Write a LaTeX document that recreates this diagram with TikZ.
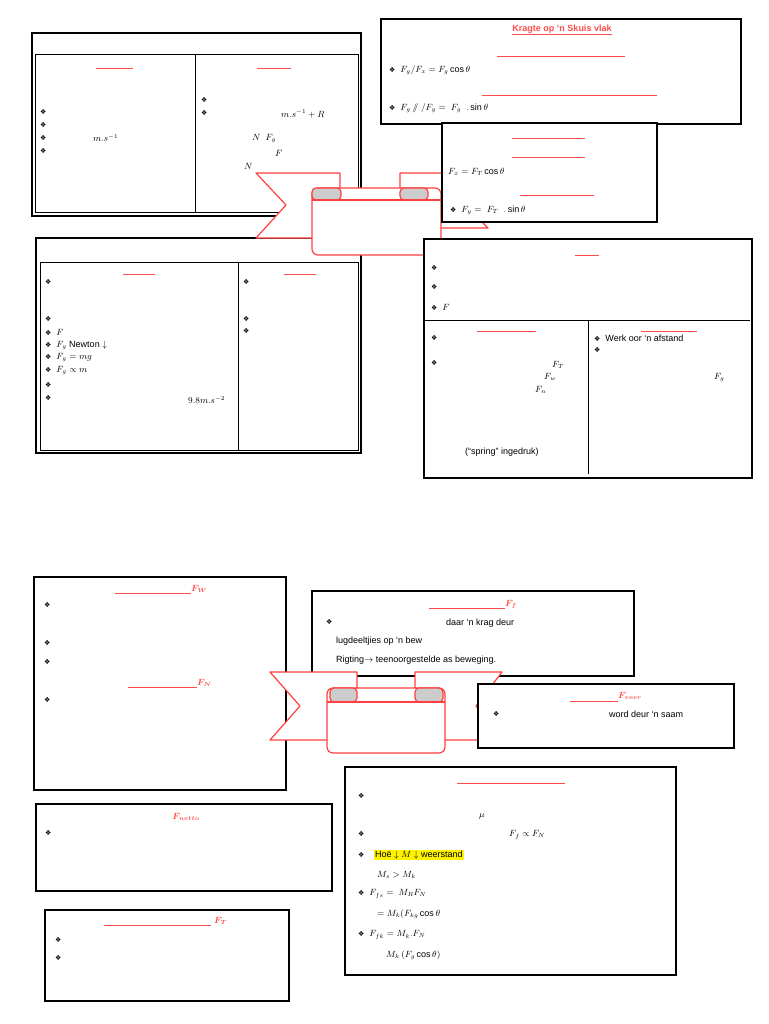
\documentclass[tikz,border=0pt]{standalone}
\usepackage{fontspec}
\usepackage{amsmath}
\setmainfont{Liberation Sans}
\newfontfamily\djv{DejaVu Sans}
\newcommand{\bl}{{\djv\fontsize{7}{8}\selectfont ❖}}
\begin{document}
\begin{tikzpicture}[x=1pt,y=-1pt,
  box/.style={draw=black,line width=1.3pt,fill=white},
  thin/.style={draw=black,line width=0.8pt},
  rl/.style={draw=red!70,line width=0.8pt},
  rt/.style={text=red!70,font=\fontsize{9}{10}\selectfont\bfseries},
  t/.style={anchor=west,font=\fontsize{9}{10}\selectfont,inner sep=0},
  m/.style={anchor=west,font=\fontsize{9}{10}\selectfont,inner sep=0},
  flag/.style={draw=red!75,line width=1.2pt,fill=white,line join=round},
  curl/.style={draw=red!75,line width=1.2pt,fill=gray!40,rounded corners=4pt}]
\useasboundingbox (0,0) rectangle (768,1024);
% ---------- A
\path[box] (32,33) rectangle (361,216);
\path[box,line width=1pt] (35,55) rectangle (358,213);
\draw[thin] (195,55) -- (195,213);
\draw[rl] (96,68) -- (133,68); \draw[rl] (257,68) -- (291,68);
\foreach \y in {112,125,138,151} \node[t] at (40,\y) {\bl};
\node[m] at (93,138) {$m.s^{-1}$};
\node[t] at (201,100) {\bl}; \node[t] at (201,113) {\bl};
\node[m] at (281,114) {$m.s^{-1}+R$};
\node[m] at (252,139) {$N\;\;F_g$};
\node[m] at (275,153) {$F$};
\node[m] at (244,166) {$N$};
% ---------- D
\path[box] (36,238) rectangle (361,453);
\path[box,line width=1pt] (40,262) rectangle (358,450);
\draw[thin] (238,262) -- (238,450);
\draw[rl] (123,274) -- (155,274); \draw[rl] (284,274) -- (316,274);
\node[t] at (45,282) {\bl};
\node[t] at (45,319) {\bl};
\node[t] at (45,332) {\bl\ \ $F$};
\node[t] at (45,345) {\bl\ \ $F_g$ Newton $\downarrow$};
\node[t] at (45,358) {\bl\ \ $F_g=mg$};
\node[t] at (45,371) {\bl\ \ $F_g\propto m$};
\node[t] at (45,385) {\bl};
\node[t] at (45,398) {\bl};
\node[m] at (188,400) {$9.8m.s^{-2}$};
\node[t] at (243,282) {\bl}; \node[t] at (243,319) {\bl}; \node[t] at (243,331) {\bl};
% ---------- Banner 1
\path[flag] (256,173) -- (340,173) -- (340,238) -- (256,238) -- (286,205) -- cycle;
\path[flag] (488,228) -- (400,228) -- (400,173) -- (488,173) -- (460,200) -- cycle;
\path[draw=red!75,line width=1.2pt,fill=white,rounded corners=6pt] (312,188) rectangle (441,255);
\path[curl] (312,200) -- (312,188) -- (341,188) -- (341,200) -- cycle;
\path[curl] (400,200) -- (400,188) -- (428,188) -- (428,200) -- cycle;
\draw[red!75,line width=1.2pt] (312,200) -- (441,200);
% ---------- B
\path[box] (381,19) rectangle (741,124);
\node[rt] (bt) at (562,30) {\underline{Kragte op `n Skuis vlak}};
\draw[rl] (497,56) -- (625,56); \draw[rl] (482,95) -- (657,95);
\node[m] at (389,70) {\bl\ \ $F_g/F_x=F_g\cos\theta$};
\node[m] at (389,108) {\bl\ \ $F_g\,/\!\!/\;/F_y=\;F_g\;\;.\sin\theta$};
% ---------- C
\path[box] (442,123) rectangle (657,222);
\draw[rl] (512,138) -- (585,138); \draw[rl] (512,157) -- (585,157); \draw[rl] (520,195) -- (594,195);
\node[m] at (448,172) {$F_x=F_T\cos\theta$};
\node[m] at (450,210) {\bl\ \ $F_y=\;F_T\;\;.\sin\theta$};
% ---------- E
\path[box] (424,239) rectangle (752,478);
\draw[thin] (425,320) -- (750,320); \draw[thin] (588,320) -- (588,474);
\draw[rl] (575,255) -- (599,255); \draw[rl] (477,331) -- (536,331); \draw[rl] (641,331) -- (697,331);
\node[t] at (431,268) {\bl}; \node[t] at (431,287) {\bl};
\node[m] at (431,307) {\bl\ \ $F$};
\node[t] at (431,338) {\bl}; \node[t] at (431,363) {\bl};
\node[m] at (552,365) {$F_T$}; \node[m] at (544,377) {$F_w$}; \node[m] at (535,390) {$F_n$};
\node[t] at (465,452) {(``spring'' ingedruk)};
\node[t] at (594,338) {\bl\ \ Werk oor `n afstand};
\node[t] at (594,350) {\bl};
\node[m] at (714,378) {$F_g$};
% ---------- F
\path[box] (34,577) rectangle (286,790);
\draw[rl] (115,593) -- (191,593); \node[rt,anchor=west,inner sep=0] at (191,589) {$\boldsymbol{F_W}$};
\draw[rl] (128,687) -- (197,687); \node[rt,anchor=west,inner sep=0] at (197,683) {$\boldsymbol{F_N}$};
\foreach \y in {605,643,662,700} \node[t] at (44,\y) {\bl};
% ---------- G
\path[box] (312,591) rectangle (634,676);
\draw[rl] (429,608) -- (505,608); \node[rt,anchor=west,inner sep=0] at (505,604) {$\boldsymbol{F_f}$};
\node[t] at (326,622) {\bl}; \node[t] at (446,623) {daar `n krag deur};
\node[t] at (336,641) {lugdeeltjies op `n bew};
\node[t] at (336,660) {Rigting$\rightarrow$ teenoorgestelde as beweging.};
% ---------- Banner 2
\path[flag] (270,672) -- (357,672) -- (357,740) -- (270,740) -- (300,706) -- cycle;
\path[flag] (502,672) -- (415,672) -- (415,740) -- (502,740) -- (476,706) -- cycle;
\path[draw=red!75,line width=1.2pt,fill=white,rounded corners=6pt] (327,688) rectangle (445,753);
\path[curl] (330,702) -- (330,688) -- (357,688) -- (357,702) -- cycle;
\path[curl] (415,702) -- (415,688) -- (443,688) -- (443,702) -- cycle;
\draw[red!75,line width=1.2pt] (327,702) -- (445,702);
% ---------- H
\path[box] (478,684) rectangle (734,748);
\draw[rl] (570,701) -- (618,701); \node[rt,anchor=west,inner sep=0] at (618,696) {$\boldsymbol{F_{veer}}$};
\node[t] at (493,714) {\bl}; \node[t] at (609,714) {word deur `n saam};
% ---------- I
\path[box] (36,804) rectangle (332,891);
\node[rt] at (186,817) {$\boldsymbol{F_{netto}}$};
\node[t] at (45,833) {\bl};
% ---------- J
\path[box] (45,910) rectangle (289,1001);
\draw[rl] (104,925) -- (211,925); \node[rt,anchor=west,inner sep=0] at (214,921) {$\boldsymbol{F_T}$};
\node[t] at (55,940) {\bl}; \node[t] at (55,958) {\bl};
% ---------- K
\path[box] (345,767) rectangle (676,975);
\draw[rl] (457,783) -- (565,783);
\node[t] at (358,796) {\bl};
\node[m] at (479,816) {$\mu$};
\node[t] at (358,834) {\bl}; \node[m] at (509,835) {$F_f\propto F_N$};
\node[t] at (358,855) {\bl};
\node[t,fill=yellow,inner sep=1pt,anchor=west] at (374,855) {Hoë $\downarrow M\downarrow$ weerstand};
\node[m] at (377,875) {$M_s>M_k$};
\node[m] at (358,894) {\bl\ \ $F_{fs}=\;M_RF_N$};
\node[m] at (377,914) {$=M_k(F_{kg}\cos\theta$};
\node[m] at (358,935) {\bl\ \ $F_{fk}=M_k.F_N$};
\node[m] at (386,955) {$M_k\,(F_g\cos\theta)$};
\end{tikzpicture}
\end{document}
